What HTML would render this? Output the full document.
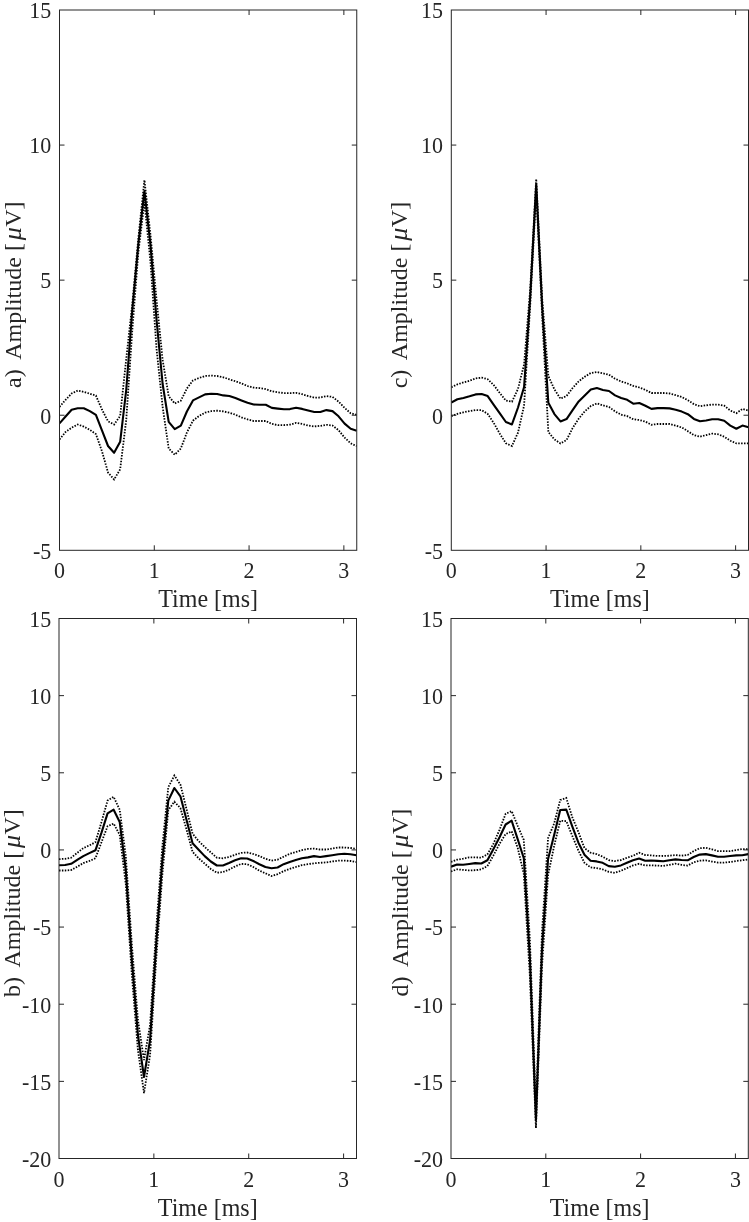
<!DOCTYPE html>
<html><head><meta charset="utf-8"><title>Amplitude vs Time</title>
<style>
html,body{margin:0;padding:0;background:#fff;}
body{width:749px;height:1222px;overflow:hidden;}
svg{display:block;}
.tl{font-family:"Liberation Serif","Times New Roman",serif;font-size:22px;fill:#262626;}
.lab{font-family:"Liberation Serif","Times New Roman",serif;font-size:24px;fill:#262626;}
.box{fill:none;stroke:#262626;stroke-width:1;}
.tick{fill:none;stroke:#262626;stroke-width:1;}
.sol{fill:none;stroke:#000;stroke-width:2.1;stroke-linejoin:round;}
.dot{fill:none;stroke:#000;stroke-width:1.8;stroke-dasharray:1.5 1.4;}
</style></head>
<body>
<svg width="749" height="1222" viewBox="0 0 749 1222">
<rect width="100%" height="100%" fill="#fff"/>
<clipPath id="clipa"><rect x="59.5" y="10.0" width="297.25" height="540.3"/></clipPath>
<g clip-path="url(#clipa)">
<path class="dot" d="M59.50,406.8 L65.57,399.9 L71.63,393.5 L77.70,390.6 L83.77,391.9 L89.83,393.7 L95.90,395.6 L101.96,409.5 L108.03,421.3 L114.10,424.5 L120.16,415.9 L126.23,359.0 L132.30,304.0 L138.36,238.0 L144.43,180.0 L150.49,235.0 L156.56,300.0 L162.63,360.0 L168.69,396.2 L174.76,403.5 L180.83,400.7 L186.89,388.5 L192.96,380.4 L199.03,378.0 L205.09,376.0 L211.16,375.6 L217.22,376.0 L223.29,377.3 L229.36,379.3 L235.42,381.3 L241.49,383.4 L247.56,386.0 L253.62,387.6 L259.69,388.1 L265.76,389.1 L271.82,391.3 L277.89,392.3 L283.95,393.1 L290.02,393.1 L296.09,392.8 L302.15,394.2 L308.22,396.1 L314.29,397.6 L320.35,397.5 L326.42,396.1 L332.48,396.9 L338.55,401.6 L344.62,407.9 L350.68,413.3 L356.75,414.8"/>
<path class="dot" d="M59.50,439.4 L65.57,432.0 L71.63,427.7 L77.70,424.5 L83.77,426.6 L89.83,429.8 L95.90,434.1 L101.96,451.2 L108.03,472.5 L114.10,479.5 L120.16,469.3 L126.23,420.0 L132.30,330.0 L138.36,252.0 L144.43,202.0 L150.49,262.0 L156.56,349.0 L162.63,406.8 L168.69,448.5 L174.76,454.7 L180.83,448.5 L186.89,432.5 L192.96,420.7 L199.03,416.0 L205.09,412.7 L211.16,411.1 L217.22,410.7 L223.29,411.4 L229.36,412.7 L235.42,414.7 L241.49,417.4 L247.56,419.4 L253.62,421.0 L259.69,421.0 L265.76,421.0 L271.82,423.9 L277.89,425.1 L283.95,425.1 L290.02,424.6 L296.09,422.9 L302.15,424.0 L308.22,425.5 L314.29,426.5 L320.35,425.8 L326.42,424.8 L332.48,425.5 L338.55,430.2 L344.62,437.6 L350.68,443.4 L356.75,446.1"/>
<path class="sol" d="M59.50,423.4 L65.57,416.5 L71.63,409.7 L77.70,408.2 L83.77,408.2 L89.83,411.1 L95.90,414.9 L101.96,430.3 L108.03,446.0 L114.10,452.8 L120.16,441.8 L126.23,390.0 L132.30,310.0 L138.36,244.0 L144.43,191.0 L150.49,245.0 L156.56,320.0 L162.63,384.0 L168.69,421.9 L174.76,429.1 L180.83,425.7 L186.89,411.5 L192.96,400.4 L199.03,397.4 L205.09,394.4 L211.16,393.8 L217.22,394.0 L223.29,395.4 L229.36,396.0 L235.42,398.0 L241.49,400.4 L247.56,402.7 L253.62,404.5 L259.69,404.8 L265.76,404.8 L271.82,407.9 L277.89,408.6 L283.95,409.2 L290.02,409.1 L296.09,407.7 L302.15,408.9 L308.22,410.5 L314.29,412.0 L320.35,412.0 L326.42,410.1 L332.48,411.1 L338.55,416.3 L344.62,423.6 L350.68,428.7 L356.75,430.7"/>
</g>
<rect class="box" x="59.5" y="10.0" width="297.25" height="540.3"/>
<path class="tick" d="M59.5,145.07h5M356.75,145.07h-5M59.5,280.15h5M356.75,280.15h-5M59.5,415.22h5M356.75,415.22h-5M154.29,550.3v-5M154.29,10.0v5M249.07,550.3v-5M249.07,10.0v5M343.86,550.3v-5M343.86,10.0v5"/>
<text class="tl" transform="translate(51.3,18.30) scale(1,1.03)" text-anchor="end">15</text>
<text class="tl" transform="translate(51.3,153.38) scale(1,1.03)" text-anchor="end">10</text>
<text class="tl" transform="translate(51.3,288.45) scale(1,1.03)" text-anchor="end">5</text>
<text class="tl" transform="translate(51.3,423.52) scale(1,1.03)" text-anchor="end">0</text>
<text class="tl" transform="translate(51.3,558.60) scale(1,1.03)" text-anchor="end">-5</text>
<text class="tl" transform="translate(59.50,578.10) scale(1,1.03)" text-anchor="middle">0</text>
<text class="tl" transform="translate(154.29,578.10) scale(1,1.03)" text-anchor="middle">1</text>
<text class="tl" transform="translate(249.07,578.10) scale(1,1.03)" text-anchor="middle">2</text>
<text class="tl" transform="translate(343.86,578.10) scale(1,1.03)" text-anchor="middle">3</text>
<text class="lab" transform="translate(208.12,606.70) scale(1,1.03)" text-anchor="middle">Time [ms]</text>
<text class="lab" transform="translate(20.6,387.9) scale(1.0,1) rotate(-90)">a)<tspan dx="4.8"> Amplitude [</tspan><tspan dx="2.8" font-style="italic" style="font-size:26px">μ</tspan><tspan dx="0.5">V]</tspan></text>
<clipPath id="clipc"><rect x="451.3" y="10.0" width="297.2" height="540.3"/></clipPath>
<g clip-path="url(#clipc)">
<path class="dot" d="M451.30,387.2 L457.37,384.4 L463.43,382.4 L469.50,380.8 L475.56,378.4 L481.63,377.6 L487.69,379.2 L493.76,385.1 L499.82,393.1 L505.89,400.6 L511.95,401.7 L518.02,388.8 L524.08,364.5 L530.15,290.0 L536.21,179.0 L542.28,300.0 L548.34,376.0 L554.41,389.4 L560.48,398.7 L566.54,396.0 L572.61,388.0 L578.67,381.4 L584.74,376.7 L590.80,373.0 L596.87,372.0 L602.93,373.4 L609.00,374.7 L615.06,378.7 L621.13,381.4 L627.19,383.4 L633.26,385.9 L639.32,387.5 L645.39,389.9 L651.46,393.0 L657.52,393.0 L663.59,393.0 L669.65,393.5 L675.72,395.1 L681.78,397.0 L687.85,400.2 L693.91,404.2 L699.98,406.2 L706.04,405.3 L712.11,404.6 L718.17,404.6 L724.24,405.7 L730.30,410.5 L736.37,413.2 L742.43,408.9 L748.50,410.5"/>
<path class="dot" d="M451.30,416.1 L457.37,413.9 L463.43,412.3 L469.50,411.1 L475.56,410.0 L481.63,410.2 L487.69,413.9 L493.76,423.0 L499.82,433.7 L505.89,443.3 L511.95,446.0 L518.02,432.6 L524.08,405.5 L530.15,306.0 L536.21,192.0 L542.28,318.0 L548.34,432.0 L554.41,439.4 L560.48,443.4 L566.54,440.1 L572.61,428.1 L578.67,418.7 L584.74,411.4 L590.80,406.1 L596.87,403.4 L602.93,405.4 L609.00,407.0 L615.06,411.4 L621.13,414.7 L627.19,416.1 L633.26,419.3 L639.32,420.0 L645.39,421.6 L651.46,424.8 L657.52,424.0 L663.59,424.0 L669.65,424.0 L675.72,425.6 L681.78,427.5 L687.85,431.2 L693.91,435.1 L699.98,436.7 L706.04,435.1 L712.11,433.6 L718.17,434.3 L724.24,436.7 L730.30,440.7 L736.37,443.4 L742.43,443.4 L748.50,443.4"/>
<path class="sol" d="M451.30,402.5 L457.37,399.3 L463.43,397.9 L469.50,396.3 L475.56,394.4 L481.63,394.0 L487.69,396.1 L493.76,404.9 L499.82,413.4 L505.89,422.0 L511.95,424.4 L518.02,407.5 L524.08,387.0 L530.15,298.0 L536.21,184.0 L542.28,309.0 L548.34,402.7 L554.41,414.1 L560.48,421.4 L566.54,419.1 L572.61,410.1 L578.67,401.4 L584.74,395.4 L590.80,389.6 L596.87,388.0 L602.93,390.0 L609.00,391.0 L615.06,395.4 L621.13,398.0 L627.19,399.8 L633.26,403.7 L639.32,403.0 L645.39,405.7 L651.46,408.9 L657.52,408.1 L663.59,408.1 L669.65,408.4 L675.72,409.7 L681.78,411.6 L687.85,414.2 L693.91,418.9 L699.98,421.3 L706.04,420.5 L712.11,419.3 L718.17,419.3 L724.24,420.8 L730.30,425.6 L736.37,428.8 L742.43,425.6 L748.50,427.2"/>
</g>
<rect class="box" x="451.3" y="10.0" width="297.2" height="540.3"/>
<path class="tick" d="M451.3,145.07h5M748.5,145.07h-5M451.3,280.15h5M748.5,280.15h-5M451.3,415.22h5M748.5,415.22h-5M546.07,550.3v-5M546.07,10.0v5M640.84,550.3v-5M640.84,10.0v5M735.61,550.3v-5M735.61,10.0v5"/>
<text class="tl" transform="translate(443.1,18.30) scale(1,1.03)" text-anchor="end">15</text>
<text class="tl" transform="translate(443.1,153.38) scale(1,1.03)" text-anchor="end">10</text>
<text class="tl" transform="translate(443.1,288.45) scale(1,1.03)" text-anchor="end">5</text>
<text class="tl" transform="translate(443.1,423.52) scale(1,1.03)" text-anchor="end">0</text>
<text class="tl" transform="translate(443.1,558.60) scale(1,1.03)" text-anchor="end">-5</text>
<text class="tl" transform="translate(451.30,578.10) scale(1,1.03)" text-anchor="middle">0</text>
<text class="tl" transform="translate(546.07,578.10) scale(1,1.03)" text-anchor="middle">1</text>
<text class="tl" transform="translate(640.84,578.10) scale(1,1.03)" text-anchor="middle">2</text>
<text class="tl" transform="translate(735.61,578.10) scale(1,1.03)" text-anchor="middle">3</text>
<text class="lab" transform="translate(599.90,606.70) scale(1,1.03)" text-anchor="middle">Time [ms]</text>
<text class="lab" transform="translate(407.3,388.3) scale(1.0,1) rotate(-90)">c)<tspan dx="4.8"> Amplitude [</tspan><tspan dx="2.8" font-style="italic" style="font-size:26px">μ</tspan><tspan dx="0.5">V]</tspan></text>
<clipPath id="clipb"><rect x="59.0" y="618.5" width="297.5" height="540.0"/></clipPath>
<g clip-path="url(#clipb)">
<path class="dot" d="M59.00,859.1 L65.07,858.8 L71.14,857.7 L77.21,852.9 L83.29,848.1 L89.36,845.4 L95.43,842.2 L101.50,822.0 L107.57,800.6 L113.64,796.8 L119.71,809.7 L125.79,856.0 L131.86,945.0 L137.93,1020.0 L144.00,1060.0 L150.07,1025.0 L156.14,930.0 L162.21,848.0 L168.29,787.2 L174.36,775.5 L180.43,784.6 L186.50,809.1 L192.57,833.7 L198.64,841.2 L204.71,847.0 L210.79,852.4 L216.86,857.7 L222.93,858.3 L229.00,857.0 L235.07,854.7 L241.14,852.9 L247.21,852.5 L253.29,854.0 L259.36,856.1 L265.43,858.8 L271.50,860.6 L277.57,859.7 L283.64,856.7 L289.71,853.8 L295.79,852.0 L301.86,850.2 L307.93,848.9 L314.00,848.6 L320.07,849.5 L326.14,849.5 L332.21,848.6 L338.29,847.5 L344.36,847.5 L350.43,848.0 L356.50,848.9"/>
<path class="dot" d="M59.00,870.5 L65.07,870.5 L71.14,870.0 L77.21,866.8 L83.29,863.1 L89.36,861.0 L95.43,858.3 L101.50,842.2 L107.57,826.2 L113.64,823.6 L119.71,834.8 L125.79,884.0 L131.86,975.0 L137.93,1050.0 L144.00,1093.0 L150.07,1055.0 L156.14,960.0 L162.21,876.0 L168.29,810.2 L174.36,801.7 L180.43,808.1 L186.50,829.4 L192.57,851.9 L198.64,858.3 L204.71,863.6 L210.79,868.9 L216.86,872.7 L222.93,872.1 L229.00,869.7 L235.07,866.4 L241.14,863.9 L247.21,864.2 L253.29,867.0 L259.36,870.6 L265.43,873.3 L271.50,876.0 L277.57,874.2 L283.64,871.1 L289.71,868.8 L295.79,867.0 L301.86,865.1 L307.93,864.2 L314.00,863.3 L320.07,862.8 L326.14,862.4 L332.21,861.5 L338.29,860.6 L344.36,860.6 L350.43,861.0 L356.50,862.1"/>
<path class="sol" d="M59.00,865.2 L65.07,865.0 L71.14,863.8 L77.21,859.9 L83.29,856.1 L89.36,853.1 L95.43,850.3 L101.50,832.6 L107.57,813.4 L113.64,809.7 L119.71,822.0 L125.79,870.0 L131.86,960.0 L137.93,1035.0 L144.00,1077.0 L150.07,1040.0 L156.14,945.0 L162.21,862.0 L168.29,800.6 L174.36,788.0 L180.43,796.3 L186.50,819.8 L192.57,843.3 L198.64,849.7 L204.71,856.1 L210.79,861.5 L216.86,865.5 L222.93,865.5 L229.00,863.0 L235.07,860.3 L241.14,858.3 L247.21,858.5 L253.29,861.0 L259.36,864.2 L265.43,867.0 L271.50,868.2 L277.57,867.5 L283.64,864.2 L289.71,861.9 L295.79,860.1 L301.86,858.3 L307.93,857.4 L314.00,856.1 L320.07,857.0 L326.14,856.1 L332.21,855.2 L338.29,854.3 L344.36,853.8 L350.43,854.3 L356.50,855.2"/>
</g>
<rect class="box" x="59.0" y="618.5" width="297.5" height="540.0"/>
<path class="tick" d="M59.0,695.64h5M356.5,695.64h-5M59.0,772.79h5M356.5,772.79h-5M59.0,849.93h5M356.5,849.93h-5M59.0,927.07h5M356.5,927.07h-5M59.0,1004.21h5M356.5,1004.21h-5M59.0,1081.36h5M356.5,1081.36h-5M153.87,1158.5v-5M153.87,618.5v5M248.73,1158.5v-5M248.73,618.5v5M343.60,1158.5v-5M343.60,618.5v5"/>
<text class="tl" transform="translate(51.3,626.80) scale(1,1.03)" text-anchor="end">15</text>
<text class="tl" transform="translate(51.3,703.94) scale(1,1.03)" text-anchor="end">10</text>
<text class="tl" transform="translate(51.3,781.09) scale(1,1.03)" text-anchor="end">5</text>
<text class="tl" transform="translate(51.3,858.23) scale(1,1.03)" text-anchor="end">0</text>
<text class="tl" transform="translate(51.3,935.37) scale(1,1.03)" text-anchor="end">-5</text>
<text class="tl" transform="translate(51.3,1012.51) scale(1,1.03)" text-anchor="end">-10</text>
<text class="tl" transform="translate(51.3,1089.66) scale(1,1.03)" text-anchor="end">-15</text>
<text class="tl" transform="translate(51.3,1166.80) scale(1,1.03)" text-anchor="end">-20</text>
<text class="tl" transform="translate(59.00,1187.20) scale(1,1.03)" text-anchor="middle">0</text>
<text class="tl" transform="translate(153.87,1187.20) scale(1,1.03)" text-anchor="middle">1</text>
<text class="tl" transform="translate(248.73,1187.20) scale(1,1.03)" text-anchor="middle">2</text>
<text class="tl" transform="translate(343.60,1187.20) scale(1,1.03)" text-anchor="middle">3</text>
<text class="lab" transform="translate(207.75,1215.80) scale(1,1.03)" text-anchor="middle">Time [ms]</text>
<text class="lab" transform="translate(20.4,997.0) scale(1.0,1) rotate(-90)">b)<tspan dx="4.8"> Amplitude [</tspan><tspan dx="2.8" font-style="italic" style="font-size:26px">μ</tspan><tspan dx="0.5">V]</tspan></text>
<clipPath id="clipd"><rect x="451.0" y="618.5" width="297.29999999999995" height="540.0"/></clipPath>
<g clip-path="url(#clipd)">
<path class="dot" d="M451.00,861.9 L457.07,859.7 L463.13,858.7 L469.20,857.4 L475.27,857.4 L481.34,857.6 L487.40,854.4 L493.47,843.7 L499.54,829.8 L505.61,813.8 L511.67,811.1 L517.74,826.0 L523.81,840.0 L529.88,940.0 L535.94,1108.0 L542.01,932.0 L548.08,838.0 L554.14,823.6 L560.21,800.0 L566.28,798.0 L572.35,817.4 L578.41,832.0 L584.48,848.1 L590.55,852.7 L596.62,854.1 L602.68,856.7 L608.75,860.1 L614.82,861.1 L620.89,860.1 L626.95,857.7 L633.02,855.8 L639.09,852.7 L645.16,855.0 L651.22,855.4 L657.29,855.9 L663.36,856.0 L669.42,855.7 L675.49,855.0 L681.56,855.7 L687.63,855.0 L693.69,851.1 L699.76,848.2 L705.83,847.8 L711.90,849.3 L717.96,851.1 L724.03,851.1 L730.10,851.1 L736.17,850.1 L742.23,849.1 L748.30,849.1"/>
<path class="dot" d="M451.00,871.5 L457.07,869.3 L463.13,869.9 L469.20,870.4 L475.27,870.2 L481.34,869.3 L487.40,866.1 L493.47,855.4 L499.54,843.7 L505.61,834.1 L511.67,831.4 L517.74,848.0 L523.81,874.0 L529.88,976.0 L535.94,1128.0 L542.01,966.0 L548.08,875.0 L554.14,846.0 L560.21,820.7 L566.28,821.1 L572.35,836.0 L578.41,850.7 L584.48,862.8 L590.55,867.4 L596.62,868.1 L602.68,869.4 L608.75,871.8 L614.82,872.8 L620.89,870.8 L626.95,868.1 L633.02,865.4 L639.09,863.8 L645.16,865.4 L651.22,865.3 L657.29,865.6 L663.36,866.0 L669.42,864.9 L675.49,863.6 L681.56,864.9 L687.63,865.6 L693.69,862.3 L699.76,860.7 L705.83,860.3 L711.90,861.6 L717.96,862.6 L724.03,862.6 L730.10,862.0 L736.17,861.0 L742.23,860.3 L748.30,859.4"/>
<path class="sol" d="M451.00,866.7 L457.07,864.5 L463.13,864.8 L469.20,864.0 L475.27,863.1 L481.34,863.5 L487.40,860.3 L493.47,849.0 L499.54,837.3 L505.61,824.5 L511.67,820.7 L517.74,839.4 L523.81,858.2 L529.88,958.0 L535.94,1120.0 L542.01,949.0 L548.08,859.0 L554.14,834.9 L560.21,810.0 L566.28,809.6 L572.35,826.7 L578.41,842.7 L584.48,854.7 L590.55,860.7 L596.62,861.4 L602.68,862.8 L608.75,866.1 L614.82,866.8 L620.89,865.4 L626.95,862.8 L633.02,860.3 L639.09,858.5 L645.16,860.7 L651.22,860.5 L657.29,860.9 L663.36,861.2 L669.42,860.3 L675.49,859.4 L681.56,860.0 L687.63,860.3 L693.69,857.0 L699.76,854.6 L705.83,854.1 L711.90,855.4 L717.96,856.7 L724.03,856.7 L730.10,856.0 L736.17,855.4 L742.23,855.3 L748.30,854.1"/>
</g>
<rect class="box" x="451.0" y="618.5" width="297.29999999999995" height="540.0"/>
<path class="tick" d="M451.0,695.64h5M748.3,695.64h-5M451.0,772.79h5M748.3,772.79h-5M451.0,849.93h5M748.3,849.93h-5M451.0,927.07h5M748.3,927.07h-5M451.0,1004.21h5M748.3,1004.21h-5M451.0,1081.36h5M748.3,1081.36h-5M545.80,1158.5v-5M545.80,618.5v5M640.60,1158.5v-5M640.60,618.5v5M735.41,1158.5v-5M735.41,618.5v5"/>
<text class="tl" transform="translate(443.1,626.80) scale(1,1.03)" text-anchor="end">15</text>
<text class="tl" transform="translate(443.1,703.94) scale(1,1.03)" text-anchor="end">10</text>
<text class="tl" transform="translate(443.1,781.09) scale(1,1.03)" text-anchor="end">5</text>
<text class="tl" transform="translate(443.1,858.23) scale(1,1.03)" text-anchor="end">0</text>
<text class="tl" transform="translate(443.1,935.37) scale(1,1.03)" text-anchor="end">-5</text>
<text class="tl" transform="translate(443.1,1012.51) scale(1,1.03)" text-anchor="end">-10</text>
<text class="tl" transform="translate(443.1,1089.66) scale(1,1.03)" text-anchor="end">-15</text>
<text class="tl" transform="translate(443.1,1166.80) scale(1,1.03)" text-anchor="end">-20</text>
<text class="tl" transform="translate(451.00,1187.20) scale(1,1.03)" text-anchor="middle">0</text>
<text class="tl" transform="translate(545.80,1187.20) scale(1,1.03)" text-anchor="middle">1</text>
<text class="tl" transform="translate(640.60,1187.20) scale(1,1.03)" text-anchor="middle">2</text>
<text class="tl" transform="translate(735.41,1187.20) scale(1,1.03)" text-anchor="middle">3</text>
<text class="lab" transform="translate(599.65,1215.80) scale(1,1.03)" text-anchor="middle">Time [ms]</text>
<text class="lab" transform="translate(407.7,996.5) scale(1.0,1) rotate(-90)">d)<tspan dx="4.8"> Amplitude [</tspan><tspan dx="2.8" font-style="italic" style="font-size:26px">μ</tspan><tspan dx="0.5">V]</tspan></text>
</svg>
</body></html>
